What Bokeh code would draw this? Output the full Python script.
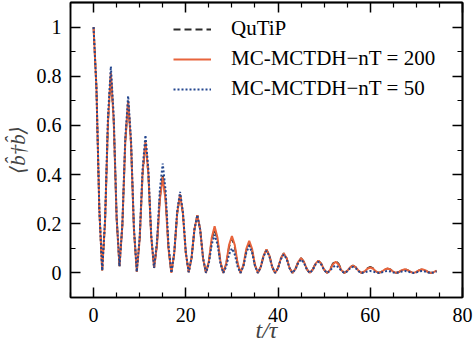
import numpy as np
from bokeh.plotting import figure
from bokeh.models import (Range1d, LinearAxis, FixedTicker, CustomJSTickFormatter,
                          Legend, LegendItem)
from bokeh.embed import file_html
from bokeh.resources import INLINE

# sample times t/tau (6 samples per oscillation period of 3.75)
t = np.arange(120) * 0.625

qutip = [
    1.0, 0.752, 0.258, 0.01, 0.21, 0.61,
    0.81, 0.614, 0.223, 0.027, 0.195, 0.532,
    0.70, 0.526, 0.179, 0.005, 0.136, 0.399,
    0.53, 0.403, 0.148, 0.02, 0.115, 0.305,
    0.40, 0.30, 0.10, 0.0, 0.08, 0.24,
    0.32, 0.241, 0.082, 0.003, 0.061, 0.177,
    0.235, 0.176, 0.059, 0.0, 0.045, 0.135,
    0.18, 0.135, 0.045, 0.0, 0.035, 0.105,
    0.14, 0.105, 0.035, 0.0, 0.03, 0.09,
    0.12, 0.09, 0.03, 0.0, 0.024, 0.071,
    0.095, 0.071, 0.024, 0.0, 0.02, 0.06,
    0.08, 0.06, 0.02, 0.0, 0.015, 0.045,
    0.06, 0.045, 0.015, 0.0, 0.013, 0.038,
    0.05, 0.038, 0.013, 0.0, 0.013, 0.038,
    0.05, 0.038, 0.013, 0.0, 0.008, 0.023,
    0.03, 0.023, 0.008, 0.0, 0.006, 0.019,
    0.025, 0.019, 0.006, 0.0, 0.005, 0.014,
    0.018, 0.014, 0.005, 0.0, 0.004, 0.011,
    0.015, 0.011, 0.004, 0.0, 0.004, 0.011,
    0.015, 0.011, 0.004, 0.0, 0.003, 0.009,
]

mc200 = [
    1.0, 0.752, 0.258, 0.01, 0.211, 0.614,
    0.815, 0.618, 0.224, 0.027, 0.195, 0.532,
    0.70, 0.526, 0.179, 0.005, 0.138, 0.403,
    0.535, 0.406, 0.149, 0.02, 0.113, 0.298,
    0.39, 0.293, 0.098, 0.0, 0.08, 0.24,
    0.32, 0.241, 0.082, 0.003, 0.061, 0.177,
    0.235, 0.176, 0.059, 0.0, 0.048, 0.143,
    0.19, 0.143, 0.048, 0.0, 0.038, 0.113,
    0.15, 0.113, 0.038, 0.0, 0.033, 0.098,
    0.13, 0.098, 0.033, 0.0, 0.024, 0.071,
    0.095, 0.071, 0.024, 0.0, 0.02, 0.06,
    0.08, 0.06, 0.02, 0.0, 0.015, 0.045,
    0.06, 0.045, 0.015, 0.0, 0.013, 0.038,
    0.05, 0.038, 0.013, 0.0, 0.011, 0.034,
    0.045, 0.034, 0.011, 0.0, 0.008, 0.023,
    0.03, 0.023, 0.008, 0.0, 0.006, 0.017,
    0.022, 0.017, 0.006, 0.0, 0.005, 0.014,
    0.018, 0.014, 0.005, 0.0, 0.004, 0.011,
    0.015, 0.011, 0.004, 0.0, 0.004, 0.011,
    0.015, 0.011, 0.004, 0.0, 0.003, 0.009,
]

mc50 = [
    1.0, 0.752, 0.258, 0.01, 0.218, 0.633,
    0.84, 0.637, 0.230, 0.027, 0.20, 0.547,
    0.72, 0.541, 0.184, 0.005, 0.144, 0.421,
    0.56, 0.425, 0.155, 0.02, 0.126, 0.339,
    0.445, 0.334, 0.111, 0.0, 0.083, 0.248,
    0.33, 0.248, 0.085, 0.003, 0.061, 0.177,
    0.235, 0.176, 0.059, 0.0, 0.039, 0.116,
    0.155, 0.116, 0.039, 0.0, 0.025, 0.075,
    0.10, 0.075, 0.025, 0.0, 0.028, 0.083,
    0.11, 0.083, 0.028, 0.0, 0.023, 0.068,
    0.09, 0.068, 0.023, 0.0, 0.019, 0.056,
    0.075, 0.056, 0.019, 0.0, 0.014, 0.041,
    0.055, 0.041, 0.014, 0.0, 0.011, 0.034,
    0.045, 0.034, 0.011, 0.0, 0.008, 0.023,
    0.03, 0.023, 0.008, 0.0, 0.006, 0.019,
    0.025, 0.019, 0.006, 0.0, 0.002, 0.006,
    0.008, 0.006, 0.002, 0.0, 0.002, 0.006,
    0.008, 0.006, 0.002, 0.0, 0.002, 0.006,
    0.008, 0.006, 0.002, 0.0, 0.002, 0.006,
    0.008, 0.006, 0.002, 0.0, 0.002, 0.006,
]

x_ticks = [0, 20, 40, 60, 80]
x_minor = [-5, 5, 10, 15, 25, 30, 35, 45, 50, 55, 65, 70, 75]
y_ticks = [0, 0.2, 0.4, 0.6, 0.8, 1]
y_minor = [-0.1, 0.1, 0.3, 0.5, 0.7, 0.9, 1.1]

labels = ["QuTiP", "MC-MCTDH\u2212nT = 200", "MC-MCTDH\u2212nT = 50"]

FONT = "'Liberation Serif', 'DejaVu Serif', serif"

p = figure(width=474, height=350, output_backend="svg", toolbar_location=None,
           x_range=Range1d(-5, 80), y_range=Range1d(-0.1, 1.1),
           min_border_left=70, min_border_right=12, min_border_top=2,
           min_border_bottom=53, x_axis_location=None, y_axis_location=None)
p.grid.visible = False
p.outline_line_color = "black"
p.outline_line_width = 1.5
p.background_fill_color = "white"
p.border_fill_color = "white"

fmt = CustomJSTickFormatter(code="return tick.toString();")


def style(ax, ticks, minor):
    ax.ticker = FixedTicker(ticks=ticks, minor_ticks=minor)
    ax.formatter = fmt
    ax.axis_line_color = "black"
    ax.axis_line_width = 1.5
    ax.major_tick_in = 10
    ax.major_tick_out = 0
    ax.minor_tick_in = 5
    ax.minor_tick_out = 0
    ax.major_tick_line_width = 1.5
    ax.minor_tick_line_width = 1.2
    ax.major_tick_line_color = "black"
    ax.minor_tick_line_color = "black"
    ax.major_label_text_font = FONT
    ax.major_label_text_color = "black"
    ax.major_label_text_font_size = "20px"
    ax.major_label_standoff = 10


def mirror(where, positions, length):
    # label-free axis: only minor-type ticks, so no tick label texts exist
    ax = LinearAxis(ticker=FixedTicker(ticks=[], minor_ticks=positions))
    ax.axis_line_color = "black"
    ax.axis_line_width = 1.5
    ax.major_tick_in = 0
    ax.major_tick_out = 0
    ax.minor_tick_in = length
    ax.minor_tick_out = 0
    ax.minor_tick_line_width = 1.5 if length > 6 else 1.2
    ax.minor_tick_line_color = "black"
    ax.major_label_standoff = 0
    ax.axis_label_standoff = 0
    p.add_layout(ax, where)


xb = LinearAxis(axis_label="t/\u03c4")
style(xb, x_ticks, x_minor)
xb.axis_label_text_font = FONT
xb.axis_label_text_font_style = "italic"
xb.axis_label_text_font_size = "24px"
xb.axis_label_standoff = -8
p.add_layout(xb, "below")

yl = LinearAxis(axis_label="\u27e8b\u0302\u2020b\u0302\u27e9")
style(yl, y_ticks, y_minor)
yl.major_label_standoff = 9
yl.axis_label_text_font = FONT
yl.axis_label_text_font_style = "italic"
yl.axis_label_text_font_size = "21px"
yl.axis_label_standoff = 4
p.add_layout(yl, "left")

mirror("above", x_ticks, 10)
mirror("above", x_minor, 5)
mirror("right", y_ticks, 10)
mirror("right", y_minor, 5)

r1 = p.line(t, qutip, line_color="#2b2b2b", line_width=1.8, line_dash="7 4")
r2 = p.line(t, mc200, line_color="#E8643C", line_width=2.0)
r3 = p.line(t, mc50, line_color="#24478F", line_width=2.0, line_dash="2 2")

legend = Legend(items=[LegendItem(label=labels[0], renderers=[r1]),
                       LegendItem(label=labels[1], renderers=[r2]),
                       LegendItem(label=labels[2], renderers=[r3])],
                location=(103, 196))
legend.border_line_color = None
legend.background_fill_alpha = 0
legend.padding = 0
legend.margin = 0
legend.spacing = 5
legend.glyph_width = 38
legend.glyph_height = 20
legend.label_height = 20
legend.label_standoff = 20
legend.label_text_font = FONT
legend.label_text_font_size = "21px"
legend.label_text_color = "black"
p.add_layout(legend)

open("out.html", "w").write(file_html(p, INLINE))
